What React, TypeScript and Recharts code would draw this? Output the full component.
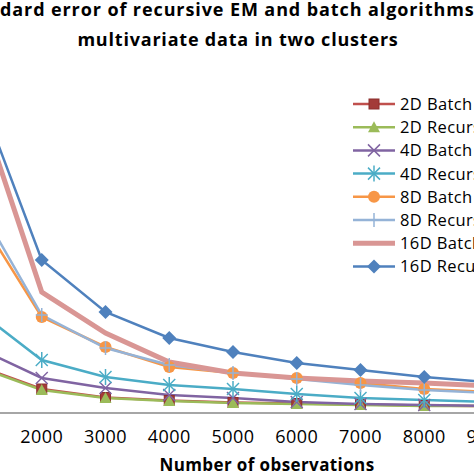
import { LineChart, Line, XAxis, YAxis } from "recharts";

// number of observations (the 1000 and 9000 categories fall just outside the crop)
const observations = [1000, 2000, 3000, 4000, 5000, 6000, 7000, 8000, 9000];

// standard error
const batch2d = [0.094, 0.048, 0.031, 0.025, 0.021, 0.019, 0.017, 0.015, 0.014];
const recur2d = [0.092, 0.046, 0.03, 0.024, 0.02, 0.018, 0.016, 0.014, 0.014];
const batch4d = [0.13, 0.07, 0.05, 0.036, 0.03, 0.022, 0.018, 0.016, 0.014];
const recur4d = [0.204, 0.106, 0.072, 0.056, 0.048, 0.038, 0.03, 0.026, 0.022];
const batch8d = [0.396, 0.192, 0.132, 0.092, 0.08, 0.07, 0.06, 0.048, 0.042];
const recur8d = [0.418, 0.196, 0.13, 0.096, 0.08, 0.068, 0.056, 0.046, 0.04];
const batch16d = [0.624, 0.242, 0.16, 0.102, 0.08, 0.07, 0.064, 0.06, 0.054];
const recur16d = [0.644, 0.306, 0.202, 0.15, 0.122, 0.1, 0.086, 0.072, 0.062];

type Shape = "square" | "triangle" | "x" | "asterisk" | "circle" | "plus" | "none" | "diamond";

const series: { key: string; name: string; values: number[]; color: string; width: number; shape: Shape }[] = [
  { key: "b2", name: "2D Batch", values: batch2d, color: "#C0504D", width: 2.5, shape: "square" },
  { key: "r2", name: "2D Recursive", values: recur2d, color: "#9BBB59", width: 2.5, shape: "triangle" },
  { key: "b4", name: "4D Batch", values: batch4d, color: "#8064A2", width: 2.5, shape: "x" },
  { key: "r4", name: "4D Recursive", values: recur4d, color: "#4BACC6", width: 2.5, shape: "asterisk" },
  { key: "b8", name: "8D Batch", values: batch8d, color: "#F79646", width: 2.5, shape: "circle" },
  { key: "r8", name: "8D Recursive", values: recur8d, color: "#95B3D7", width: 2.5, shape: "plus" },
  { key: "b16", name: "16D Batch", values: batch16d, color: "#D99694", width: 5, shape: "none" },
  { key: "r16", name: "16D Recursive", values: recur16d, color: "#4F81BD", width: 2.5, shape: "diamond" },
];

const data = observations.map((n, i) => {
  const row: Record<string, number | string> = { n: String(n) };
  series.forEach((s) => (row[s.key] = s.values[i]));
  return row;
});

const font = "'Open Sans', Lato, sans-serif";

function Marker({ shape, cx, cy, color }: { shape: Shape; cx: number; cy: number; color: string }) {
  switch (shape) {
    case "square":
      return <rect x={cx - 5} y={cy - 5} width={10} height={10} fill="#A33B38" stroke="#8C2F2D" strokeWidth={1} />;
    case "triangle":
      return <polygon points={`${cx},${cy - 6} ${cx + 6},${cy + 5} ${cx - 6},${cy + 5}`} fill={color} />;
    case "x":
      return (
        <g stroke={color} strokeWidth={1.5}>
          <line x1={cx - 6} y1={cy - 6} x2={cx + 6} y2={cy + 6} />
          <line x1={cx - 6} y1={cy + 6} x2={cx + 6} y2={cy - 6} />
        </g>
      );
    case "asterisk":
      return (
        <g stroke={color} strokeWidth={1.5}>
          <line x1={cx - 6} y1={cy - 6} x2={cx + 6} y2={cy + 6} />
          <line x1={cx - 6} y1={cy + 6} x2={cx + 6} y2={cy - 6} />
          <line x1={cx} y1={cy - 8} x2={cx} y2={cy + 8} />
        </g>
      );
    case "circle":
      return <circle cx={cx} cy={cy} r={6} fill={color} />;
    case "plus":
      return (
        <g stroke={color} strokeWidth={1.5}>
          <line x1={cx - 6} y1={cy} x2={cx + 6} y2={cy} />
          <line x1={cx} y1={cy - 7} x2={cx} y2={cy + 7} />
        </g>
      );
    case "diamond":
      return <polygon points={`${cx},${cy - 7} ${cx + 7},${cy} ${cx},${cy + 7} ${cx - 7},${cy}`} fill={color} />;
    default:
      return <g />;
  }
}

export default function App() {
  return (
    <div style={{ position: "absolute", left: 0, top: 0, width: 474, height: 474, overflow: "hidden", background: "#fff" }}>
      <div style={{ position: "absolute", left: -100, top: 0 }}>
        <LineChart width={700} height={474} data={data} margin={{ top: 63, right: 80, bottom: 21, left: 46 }}>
          <XAxis
            dataKey="n"
            height={40}
            padding={{ left: 32, right: 32 }}
            axisLine={{ stroke: "#A6A6A6", strokeWidth: 2 }}
            tickLine={false}
            tickMargin={11}
            tick={{ fontSize: 18, fill: "#000", fontFamily: font, letterSpacing: 0.5 }}
            interval={0}
          />
          <YAxis hide domain={[0, 0.7]} />
          {series.map((s) => (
            <Line
              key={s.key}
              dataKey={s.key}
              name={s.name}
              stroke={s.color}
              strokeWidth={s.width}
              type="linear"
              isAnimationActive={false}
              dot={
                s.shape === "none"
                  ? false
                  : (p: any) => <Marker key={`${s.key}-${p.index}`} shape={s.shape} cx={p.cx} cy={p.cy} color={s.color} />
              }
              activeDot={false}
            />
          ))}
        </LineChart>
      </div>
      <svg width={474} height={474} style={{ position: "absolute", left: 0, top: 0, pointerEvents: "none" }} fontFamily={font}>
        <text x={0} y={16} fontSize={18} fontWeight={700} fill="#000" letterSpacing={0.9}>
          dard error of recursive EM and batch algorithms
        </text>
        <text x={238} y={46} fontSize={18} fontWeight={700} fill="#000" textAnchor="middle" letterSpacing={0.8}>
          multivariate data in two clusters
        </text>
        <text x={267} y={471} fontSize={17} fontWeight={700} fill="#000" textAnchor="middle" letterSpacing={0.4}>
          Number of observations
        </text>
        {series.map((s, i) => {
          const cy = 104 + i * 23.2;
          return (
            <g key={s.key}>
              <line x1={353} y1={cy} x2={395} y2={cy} stroke={s.color} strokeWidth={s.width} />
              {s.shape !== "none" && <Marker shape={s.shape} cx={374} cy={cy} color={s.color} />}
              <text x={400} y={cy + 6} fontSize={16.5} fill="#000" letterSpacing={0.4}>
                {s.name}
              </text>
            </g>
          );
        })}
      </svg>
    </div>
  );
}
